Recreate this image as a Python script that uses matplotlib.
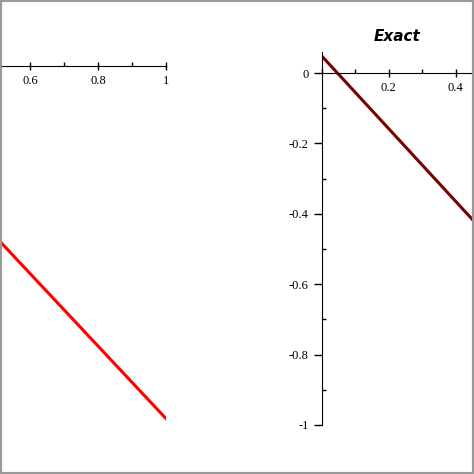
import matplotlib
matplotlib.use("Agg")
import matplotlib.pyplot as plt
from matplotlib.ticker import MultipleLocator, FixedLocator, FixedFormatter

approx_x = [0.0, 1.0]
approx_y = [0.03, -1.0]
exact_x = [0.0, 1.0]
exact_y = [0.048, -0.985]
x_ticks = [0.2, 0.4, 0.6, 0.8, 1.0]
x_labels = ["0.2", "0.4", "0.6", "0.8", "1"]
y_ticks = [0, -0.2, -0.4, -0.6, -0.8, -1]
y_labels = ["0", "-0.2", "-0.4", "-0.6", "-0.8", "-1"]

plt.rcParams['font.family'] = ['Liberation Serif', 'DejaVu Serif']
fig = plt.figure(figsize=(4.74, 4.74), dpi=100)

def style(ax):
    ax.spines['left'].set_position(('data', 0))
    ax.spines['bottom'].set_position(('data', 0))
    ax.spines['top'].set_visible(False)
    ax.spines['right'].set_visible(False)
    ax.spines['left'].set_bounds(-1.0, 0.06)
    ax.xaxis.set_major_locator(FixedLocator(x_ticks))
    ax.xaxis.set_major_formatter(FixedFormatter(x_labels))
    ax.yaxis.set_major_locator(FixedLocator(y_ticks))
    ax.yaxis.set_major_formatter(FixedFormatter(y_labels))
    ax.xaxis.set_minor_locator(MultipleLocator(0.1))
    ax.yaxis.set_minor_locator(MultipleLocator(0.1))
    ax.tick_params(which='major', direction='inout', length=6, width=1, labelsize=9)
    ax.tick_params(which='minor', direction='in', length=3, width=1)
    ax.tick_params(axis='y', direction='out')

ax1 = fig.add_axes([-0.367, 0.08, 0.717, 0.817])
ax1.plot(approx_x, approx_y, color='#ff0000', lw=2.2)
ax1.set_xlim(0, 1.0)
ax1.set_ylim(-1.05, 0.05)
style(ax1)
ax1.tick_params(axis='y', labelleft=False)

ax2 = fig.add_axes([0.679, 0.0665, 0.424, 0.824])
ax2.plot(exact_x, exact_y, color='#7a0000', lw=2.2)
ax2.set_xlim(0, 0.6)
ax2.set_ylim(-1.05, 0.06)
style(ax2)
ax2.text(0.225, 0.083, "Exact", transform=ax2.transData, ha='center', va='bottom',
         fontsize=11, fontweight='bold', style='italic', family='DejaVu Sans')

fig.patches.append(plt.Rectangle((0, 0), 1, 1, transform=fig.transFigure,
                                 fill=False, edgecolor='#999999', lw=3))
fig.savefig("out.png", dpi=100)
